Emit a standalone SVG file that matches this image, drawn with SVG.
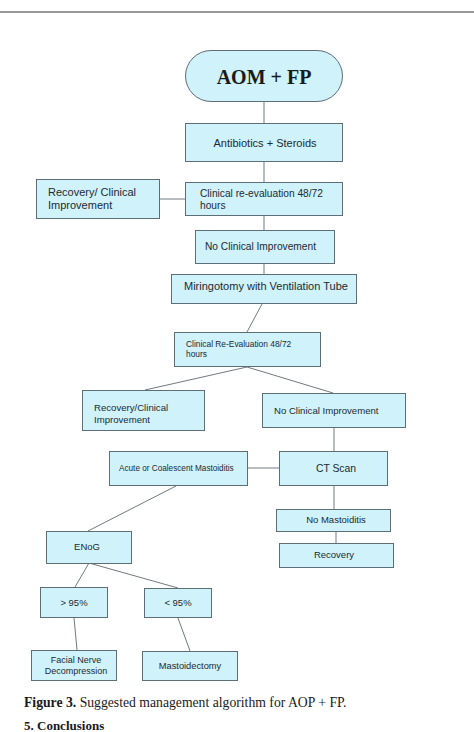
<svg xmlns="http://www.w3.org/2000/svg" width="474" height="732" viewBox="0 0 474 732">
<style>
.box{fill:#cff2fb;stroke:#5d6e76;stroke-width:1}
.ln{stroke:#6f7a80;stroke-width:1;fill:none}
.t{font-family:"Liberation Sans",Arial,sans-serif;fill:#1c2a33}
.c{text-anchor:middle}
.cap{font-family:"Liberation Serif","Times New Roman",serif;fill:#1a1a1a}
</style>
<rect width="474" height="732" fill="#ffffff"/>
<line x1="0" y1="12" x2="474" y2="12" stroke="#333" stroke-width="1.2"/>
<g id="connectors">
<line class="ln" x1="264" y1="102" x2="264" y2="123"/>
<line class="ln" x1="264" y1="162" x2="264" y2="182"/>
<line class="ln" x1="160" y1="199" x2="185" y2="199"/>
<line class="ln" x1="264" y1="216" x2="264" y2="230"/>
<line class="ln" x1="264" y1="264" x2="264" y2="274"/>
<line class="ln" x1="262" y1="304" x2="247" y2="332"/>
<line class="ln" x1="247" y1="367" x2="145" y2="390"/>
<line class="ln" x1="247" y1="367" x2="333" y2="393"/>
<line class="ln" x1="334" y1="428" x2="334" y2="451"/>
<line class="ln" x1="248" y1="468" x2="279" y2="468"/>
<line class="ln" x1="334" y1="486" x2="334" y2="509"/>
<line class="ln" x1="176" y1="486" x2="88" y2="531"/>
<line class="ln" x1="336" y1="532" x2="336" y2="543"/>
<line class="ln" x1="89" y1="563" x2="75" y2="587"/>
<line class="ln" x1="89" y1="563" x2="178" y2="588"/>
<line class="ln" x1="74" y1="618" x2="77" y2="650"/>
<line class="ln" x1="178" y1="618" x2="190" y2="651"/>
</g>
<g id="n-aom">
<rect class="box" x="185.5" y="50.5" width="157" height="51" rx="25.5"/>
<text class="cap c" x="264" y="84" font-size="20" font-weight="bold" fill="#111">AOM + FP</text>
</g>
<g id="n-antibiotics">
<rect class="box" x="185.5" y="123.5" width="157" height="38"/>
<text class="t c" x="265" y="147" font-size="11">Antibiotics + Steroids</text>
</g>
<g id="n-reeval1">
<rect class="box" x="185.5" y="182.5" width="157" height="33"/>
<text class="t" x="200" y="197" font-size="10.2">Clinical re-evaluation 48/72</text>
<text class="t" x="200" y="209" font-size="10.2">hours</text>
</g>
<g id="n-recovery1">
<rect class="box" x="36.5" y="179.5" width="123" height="39"/>
<text class="t" x="48" y="196" font-size="11">Recovery/ Clinical</text>
<text class="t" x="48" y="209" font-size="11">Improvement</text>
</g>
<g id="n-noimp1">
<rect class="box" x="195.5" y="230.5" width="139" height="33"/>
<text class="t" x="205" y="250" font-size="10.2">No Clinical Improvement</text>
</g>
<g id="n-miringotomy">
<rect class="box" x="171.5" y="274.5" width="185" height="29"/>
<text class="t" x="184" y="290" font-size="11">Miringotomy with Ventilation Tube</text>
</g>
<g id="n-reeval2">
<rect class="box" x="174.5" y="332.5" width="146" height="34"/>
<text class="t" x="186" y="347" font-size="8.4">Clinical Re-Evaluation 48/72</text>
<text class="t" x="186" y="357" font-size="8.4">hours</text>
</g>
<g id="n-recovery2">
<rect class="box" x="82.5" y="390.5" width="122" height="40"/>
<text class="t" x="94" y="411" font-size="9.6">Recovery/Clinical</text>
<text class="t" x="94" y="423" font-size="9.6">Improvement</text>
</g>
<g id="n-noimp2">
<rect class="box" x="262.5" y="393.5" width="143" height="34"/>
<text class="t" x="274" y="414" font-size="9.6">No Clinical Improvement</text>
</g>
<g id="n-ct">
<rect class="box" x="279.5" y="451.5" width="108" height="34"/>
<text class="t c" x="336" y="472" font-size="10.4">CT Scan</text>
</g>
<g id="n-acute">
<rect class="box" x="109.5" y="451.5" width="138" height="34"/>
<text class="t" x="119" y="471" font-size="8.2">Acute or Coalescent Mastoiditis</text>
</g>
<g id="n-nomast">
<rect class="box" x="276.5" y="509.5" width="114" height="22"/>
<text class="t c" x="336" y="523" font-size="9.5">No Mastoiditis</text>
</g>
<g id="n-recovery3">
<rect class="box" x="279.5" y="543.5" width="114" height="24"/>
<text class="t c" x="334" y="558" font-size="9.5">Recovery</text>
</g>
<g id="n-enog">
<rect class="box" x="46.5" y="531.5" width="85" height="32"/>
<text class="t c" x="87" y="550" font-size="9.5">ENoG</text>
</g>
<g id="n-gt95">
<rect class="box" x="40.5" y="587.5" width="67" height="30"/>
<text class="t c" x="74" y="606" font-size="9.5">&gt; 95%</text>
</g>
<g id="n-lt95">
<rect class="box" x="144.5" y="588.5" width="67" height="29"/>
<text class="t c" x="178" y="606" font-size="9.5">&lt; 95%</text>
</g>
<g id="n-facial">
<rect class="box" x="31.5" y="650.5" width="85" height="30"/>
<text class="t c" x="76" y="663" font-size="9">Facial Nerve</text>
<text class="t c" x="76" y="674" font-size="9">Decompression</text>
</g>
<g id="n-mastoidectomy">
<rect class="box" x="142.5" y="651.5" width="95" height="29"/>
<text class="t c" x="190" y="669" font-size="9.3">Mastoidectomy</text>
</g>
<text class="cap" x="24" y="707" font-size="13.7"><tspan font-weight="bold">Figure 3.</tspan> Suggested management algorithm for AOP + FP.</text>
<text class="cap" x="24" y="730" font-size="13" font-weight="bold">5. Conclusions</text>
</svg>
